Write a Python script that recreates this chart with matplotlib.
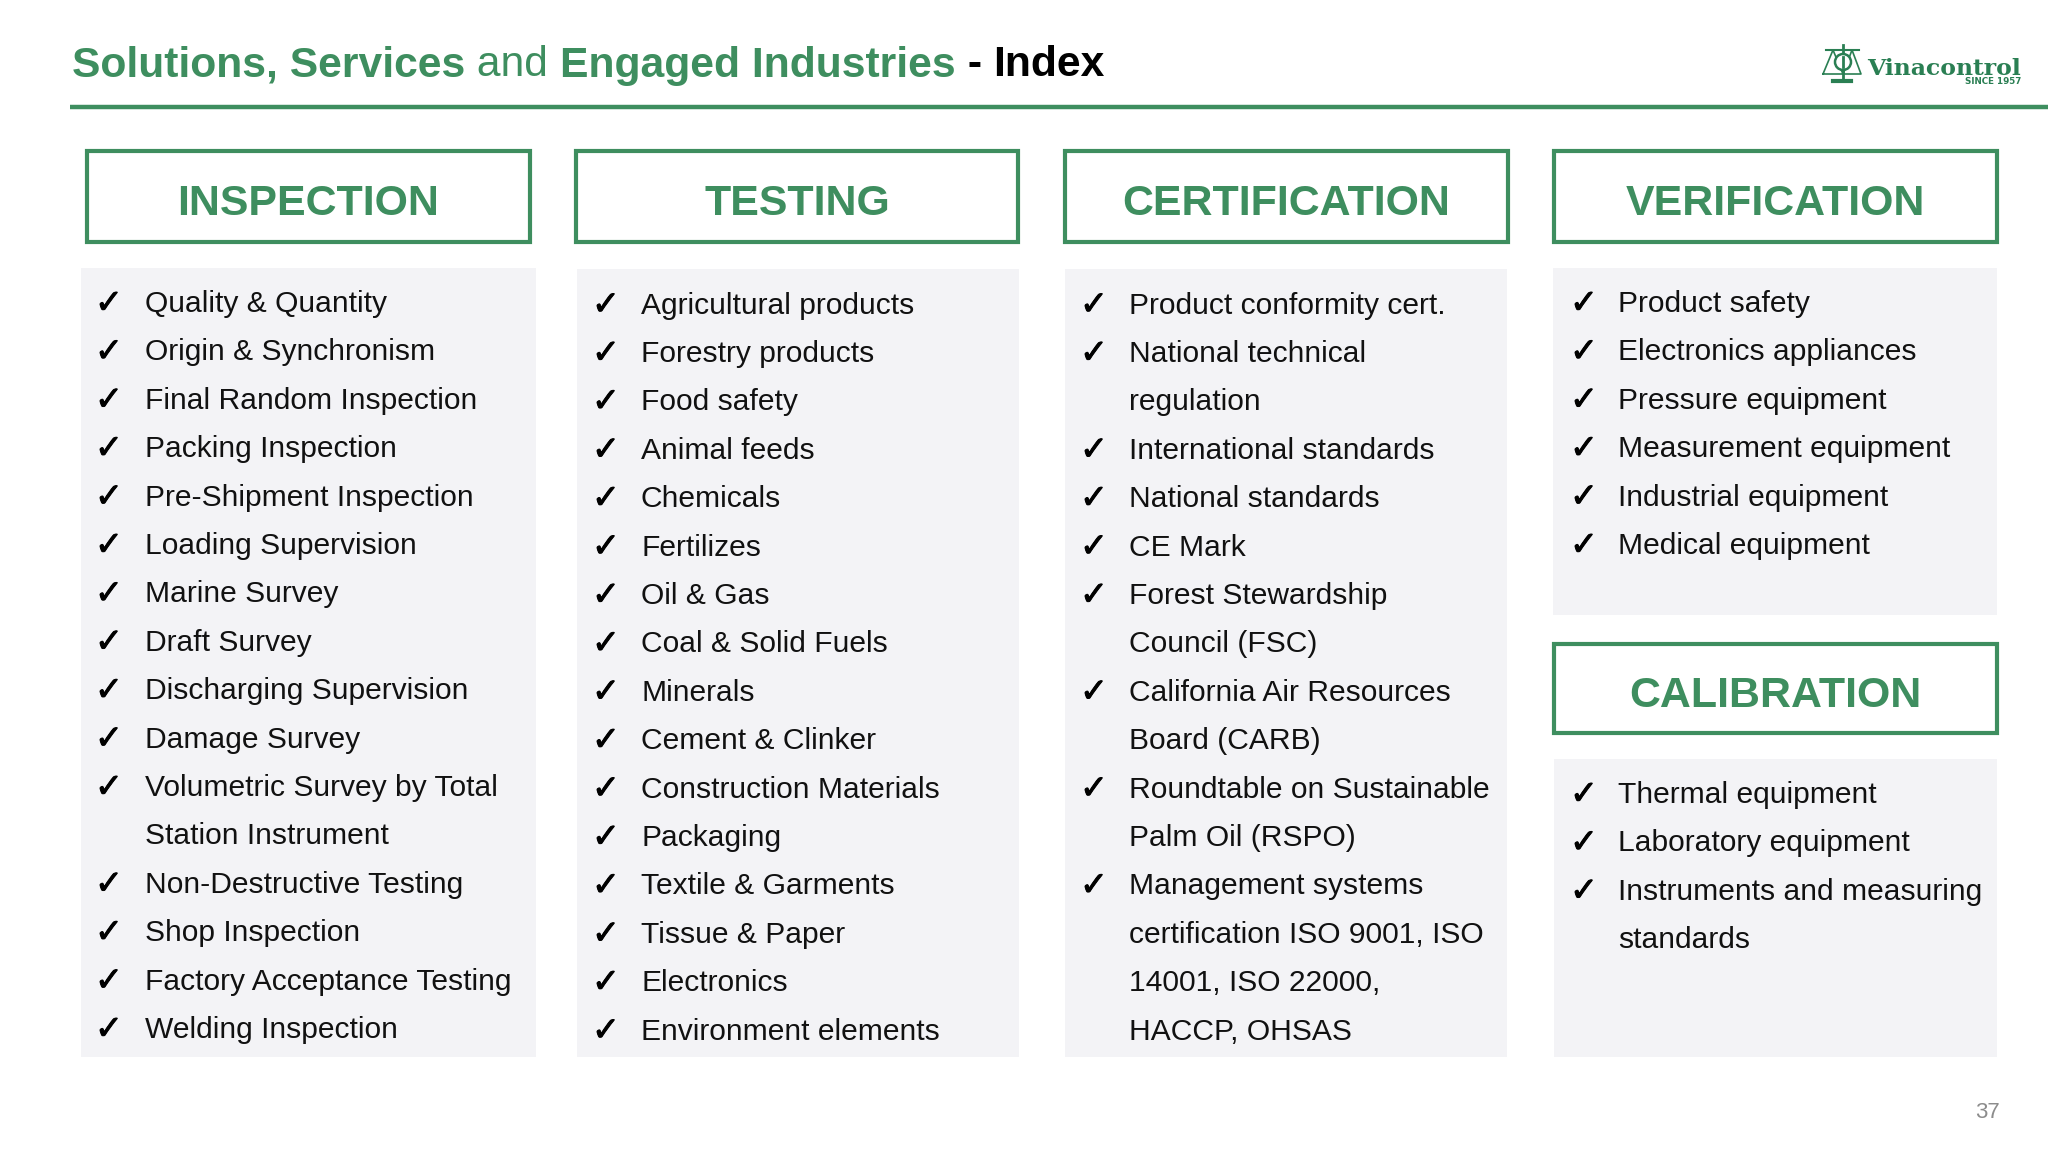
import matplotlib
matplotlib.use("Agg")
import matplotlib.pyplot as plt
import matplotlib.patheffects as pe
from matplotlib.patches import Rectangle, Circle

plt.rcParams['font.family'] = ['Liberation Sans', 'DejaVu Sans']

GREEN = '#3E8E5F'
LOGO = '#2A7F53'
PANEL = '#F3F3F6'

# lists, "\n" means the item wraps on a second row
inspection = ["Quality & Quantity", "Origin & Synchronism", "Final Random Inspection",
              "Packing Inspection", "Pre-Shipment Inspection", "Loading Supervision",
              "Marine Survey", "Draft Survey", "Discharging Supervision", "Damage Survey",
              "Volumetric Survey by Total\nStation Instrument", "Non-Destructive Testing",
              "Shop Inspection", "Factory Acceptance Testing", "Welding Inspection"]
testing = ["Agricultural products", "Forestry products", "Food safety", "Animal feeds",
           "Chemicals", "Fertilizes", "Oil & Gas", "Coal & Solid Fuels", "Minerals",
           "Cement & Clinker", "Construction Materials", "Packaging", "Textile & Garments",
           "Tissue & Paper", "Electronics", "Environment elements"]
certification = ["Product conformity cert.", "National technical\nregulation",
                 "International standards", "National standards", "CE Mark",
                 "Forest Stewardship\nCouncil (FSC)", "California Air Resources\nBoard (CARB)",
                 "Roundtable on Sustainable\nPalm Oil (RSPO)",
                 "Management systems\ncertification ISO 9001, ISO\n14001, ISO 22000,\nHACCP, OHSAS"]
verification = ["Product safety", "Electronics appliances", "Pressure equipment",
                "Measurement equipment", "Industrial equipment", "Medical equipment"]
calibration = ["Thermal equipment", "Laboratory equipment",
               "Instruments and measuring\nstandards"]

fig = plt.figure(figsize=(20.48, 11.52), dpi=100)
ax = fig.add_axes([0, 0, 1, 1])
ax.set_xlim(0, 2048)
ax.set_ylim(1152, 0)
ax.axis('off')

PITCH = 48.4
FS = 21.65


def section(name, items, box, panel, check_x, text_x, first_y):
    # box and panel are x0, y0, x1, y1 in pixels
    ax.add_patch(Rectangle((panel[0], panel[1]), panel[2] - panel[0], panel[3] - panel[1],
                           fc=PANEL, ec='none', zorder=1))
    ax.add_patch(Rectangle((box[0], box[1]), box[2] - box[0], box[3] - box[1],
                           fc='white', ec=GREEN, lw=3, zorder=2))
    ax.text((box[0] + box[2]) / 2, (box[1] + box[3]) / 2 + 18.5, name, color=GREEN, fontsize=30.9,
            fontweight='bold', ha='center', va='baseline', zorder=3)
    row = 0
    for item in items:
        ax.text(check_x + 1, first_y + row * PITCH + 1, "\u2713", family='DejaVu Sans', fontsize=24,
                color='black', ha='center', va='baseline', zorder=3,
                path_effects=[pe.withStroke(linewidth=0.7, foreground='black')])
        for line in item.split("\n"):
            ax.text(text_x, first_y + row * PITCH, line, fontsize=FS, color='#111111',
                    ha='left', va='baseline', zorder=3)
            row += 1


section("INSPECTION", inspection, (87, 151, 530, 242), (81, 268, 536, 1057), 108, 145, 312)
section("TESTING", testing, (576, 151, 1018, 242), (577, 269, 1019, 1057), 605, 641, 313.5)
section("CERTIFICATION", certification, (1065, 151, 1508, 242), (1065, 269, 1507, 1057), 1093, 1129, 313.5)
section("VERIFICATION", verification, (1554, 151, 1997, 242), (1553, 268, 1997, 615), 1583, 1618, 312)
section("CALIBRATION", calibration, (1554, 644, 1997, 733), (1554, 759, 1997, 1057), 1583, 1618, 803)

# title is built piece by piece because of the mixed weights
title_parts = [("Solutions, Services", 'bold', GREEN), (" and ", 'normal', GREEN),
               ("Engaged Industries", 'bold', GREEN), (" - ", 'bold', 'black'), ("Index", 'bold', 'black')]
x = 72
renderer = fig.canvas.get_renderer()
for part, weight, col in title_parts:
    t = ax.text(x, 76.5, part.replace(" ", "\u00a0"), fontsize=30.7, fontweight=weight, color=col,
                ha='left', va='baseline')
    x = t.get_window_extent(renderer).x1

ax.plot([70, 2048], [107, 107], color=GREEN, lw=3.2, solid_capstyle='butt')
ax.text(1987, 1118, "37", fontsize=16, color='#8C8C8C', ha='center', va='baseline')

# logo, approximated
ax.text(1867, 75, "Vinacontrol", family='DejaVu Serif', fontsize=16.9, fontweight='bold',
        color=LOGO, ha='left', va='baseline')
ax.text(2021, 84, "SINCE 1957", family='DejaVu Sans', fontsize=6.3, fontweight='bold', color=LOGO,
        ha='right', va='baseline')
ax.plot([1826, 1859], [50, 50], color=LOGO, lw=1.5)
ax.plot([1843, 1843], [45, 81], color=LOGO, lw=2)
ax.plot([1833, 1851], [81, 81], color=LOGO, lw=3)
ax.add_patch(Circle((1843, 62), 8, fc='white', ec=LOGO, lw=1.8, zorder=3))
ax.plot([1843, 1843], [57, 67], color=LOGO, lw=2, zorder=4)
ax.plot([1823, 1833, 1843, 1823], [74, 50, 74, 74], color=LOGO, lw=1.2)
ax.plot([1843, 1852, 1861, 1843], [74, 50, 74, 74], color=LOGO, lw=1.2)

fig.savefig("out.png", dpi=100, facecolor='white')
